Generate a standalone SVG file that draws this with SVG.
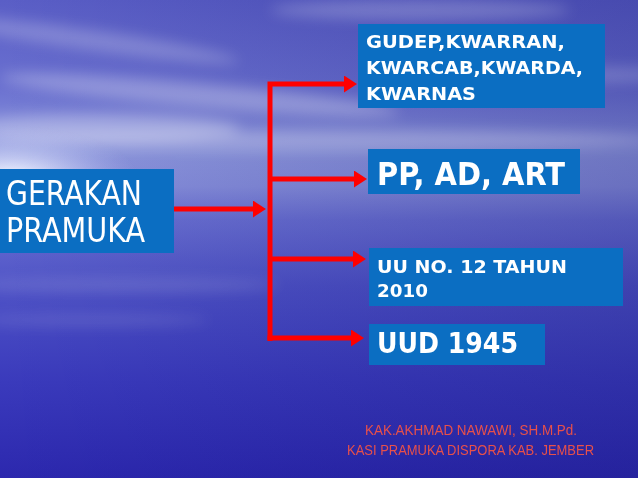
<svg xmlns="http://www.w3.org/2000/svg" width="638" height="478" viewBox="0 0 638 478">
<defs>
<linearGradient id="bg" x1="0" y1="0" x2="0" y2="1">
<stop offset="0" stop-color="#5a5ec6"/>
<stop offset="0.18" stop-color="#6a70d0"/>
<stop offset="0.32" stop-color="#8e98de"/>
<stop offset="0.39" stop-color="#8890dc"/>
<stop offset="0.46" stop-color="#6a70d2"/>
<stop offset="0.6" stop-color="#4e52c6"/>
<stop offset="0.8" stop-color="#3a3abc"/>
<stop offset="1" stop-color="#2c28ae"/>
</linearGradient>
<radialGradient id="glow" cx="0.5" cy="0.5" r="0.5">
<stop offset="0" stop-color="#ffffff" stop-opacity="1"/>
<stop offset="0.25" stop-color="#eef2ff" stop-opacity="0.75"/>
<stop offset="1" stop-color="#b0b8f0" stop-opacity="0"/>
</radialGradient>
<linearGradient id="dark" x1="0" y1="0" x2="1" y2="0">
<stop offset="0" stop-color="#000060" stop-opacity="0"/>
<stop offset="1" stop-color="#10106a" stop-opacity="0.25"/>
</linearGradient>
<filter id="blur" x="-20%" y="-50%" width="140%" height="200%"><feGaussianBlur stdDeviation="7"/></filter>
<marker id="ah" markerUnits="userSpaceOnUse" markerWidth="13" markerHeight="17" refX="2" refY="8.5" orient="auto">
<path d="M0,0 L13,8.5 L0,17 z" fill="#ff0000"/>
</marker>
<style>
.box{fill:#0b6ec2}
.t{fill:#ffffff;font-family:"DejaVu Sans Condensed","DejaVu Sans",sans-serif;font-stretch:condensed}
.b{font-weight:bold;font-family:"DejaVu Sans",sans-serif;font-stretch:normal}
.bc{font-weight:bold}
.c{fill:none;stroke:#ff0000;stroke-width:5}
.f{fill:#e8504a;font-family:"Liberation Sans",Arial,sans-serif;font-size:14px;text-anchor:middle}
</style>
</defs>
<g id="background">
<rect width="638" height="478" fill="url(#bg)"/>
<rect width="638" height="478" fill="url(#dark)"/>
<g filter="url(#blur)" fill="#ffffff">
<ellipse cx="90" cy="40" rx="150" ry="10" opacity="0.22" transform="rotate(8 90 40)"/>
<ellipse cx="200" cy="95" rx="200" ry="12" opacity="0.28" transform="rotate(5 200 95)"/>
<ellipse cx="420" cy="10" rx="150" ry="10" opacity="0.22"/>
<ellipse cx="560" cy="75" rx="120" ry="9" opacity="0.18"/>
<ellipse cx="320" cy="140" rx="340" ry="10" opacity="0.25"/>
<ellipse cx="100" cy="128" rx="140" ry="14" opacity="0.3"/>
<ellipse cx="120" cy="285" rx="160" ry="7" opacity="0.14"/>
<ellipse cx="90" cy="320" rx="120" ry="6" opacity="0.12"/>
</g>
<ellipse cx="10" cy="180" rx="130" ry="55" fill="url(#glow)"/>
</g>
<g id="connectors">
<path class="c" d="M174 209 H255" marker-end="url(#ah)"/>
<path class="c" d="M270 341 V84 H346" marker-end="url(#ah)"/>
<path class="c" d="M272 179 H356" marker-end="url(#ah)"/>
<path class="c" d="M272 259 H355" marker-end="url(#ah)"/>
<path class="c" d="M267.5 338 H353" marker-end="url(#ah)"/>
</g>
<g id="gerakan">
<rect class="box" x="0" y="169" width="174" height="84"/>
<text class="t" x="6" y="205" font-size="33" textLength="136" lengthAdjust="spacingAndGlyphs">GERAKAN</text>
<text class="t" x="6" y="242" font-size="33" textLength="139" lengthAdjust="spacingAndGlyphs">PRAMUKA</text>
</g>
<g id="gudep">
<rect class="box" x="358" y="24" width="247" height="84"/>
<text class="t b" x="366" y="48" font-size="18" textLength="199" lengthAdjust="spacingAndGlyphs">GUDEP,KWARRAN,</text>
<text class="t b" x="366" y="74" font-size="18" textLength="217" lengthAdjust="spacingAndGlyphs">KWARCAB,KWARDA,</text>
<text class="t b" x="366" y="100" font-size="18" textLength="110" lengthAdjust="spacingAndGlyphs">KWARNAS</text>
</g>
<g id="ppadart">
<rect class="box" x="368" y="149" width="212" height="45"/>
<text class="t bc" x="377" y="185" font-size="31.5" textLength="188" lengthAdjust="spacingAndGlyphs">PP, AD, ART</text>
</g>
<g id="uu">
<rect class="box" x="369" y="248" width="254" height="58"/>
<text class="t b" x="377" y="273" font-size="18" textLength="190" lengthAdjust="spacingAndGlyphs">UU NO. 12 TAHUN</text>
<text class="t b" x="377" y="297" font-size="18" textLength="51" lengthAdjust="spacingAndGlyphs">2010</text>
</g>
<g id="uud">
<rect class="box" x="369" y="324" width="176" height="41"/>
<text class="t bc" x="377" y="353" font-size="29" textLength="141" lengthAdjust="spacingAndGlyphs">UUD 1945</text>
</g>
<g id="footer">
<text class="f" x="471" y="435" textLength="212" lengthAdjust="spacingAndGlyphs">KAK.AKHMAD NAWAWI, SH.M.Pd.</text>
<text class="f" x="470.5" y="455" textLength="247" lengthAdjust="spacingAndGlyphs">KASI PRAMUKA DISPORA KAB. JEMBER</text>
</g>
</svg>
